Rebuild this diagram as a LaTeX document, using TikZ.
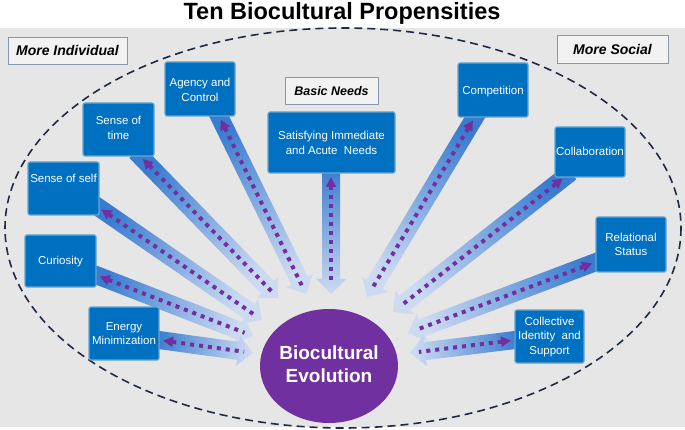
\documentclass[tikz,border=0pt]{standalone}
\usepackage{fontspec}
\setmainfont{Liberation Sans}
\usetikzlibrary{arrows.meta,calc,shapes.geometric}
\definecolor{bgray}{HTML}{E6E6E6}
\definecolor{boxblue}{HTML}{0070C0}
\definecolor{evopurple}{HTML}{7030A0}
\definecolor{dotpurple}{HTML}{7030A0}
\definecolor{navy}{HTML}{1F2A44}
\definecolor{arrdark}{HTML}{3A7CD0}
\definecolor{arrlight}{HTML}{CCDAF2}
\definecolor{lblborder}{HTML}{8497B0}
\definecolor{lblfill}{HTML}{F2F2F2}
\tikzset{
  bbox/.style={fill=boxblue, draw=boxblue!55!bgray, line width=1.2pt, rounded corners=2pt, inner sep=0pt},
  btext/.style={text=white, align=center, font=\fontsize{11.5}{14.5}\selectfont, inner sep=0pt},
  lbl/.style={fill=lblfill, draw=lblborder, line width=0.8pt, inner sep=0pt, font=\bfseries\itshape\fontsize{14}{16}\selectfont},
  dotline/.style={dotpurple, line width=4pt, dash pattern=on 4pt off 5pt, arrows={Triangle[length=10pt,width=10pt]-}},
  arrowbody/.style={top color=arrlight, bottom color=arrdark},
}
\newcommand\bigarrow[2]{%
  \pgfpointdiff{\pgfpointanchor{#1}{center}}{\pgfpointanchor{#2}{center}}%
  \pgfgetlastxy{\arrdx}{\arrdy}%
  \pgfmathsetmacro\arrang{atan2(\arrdy,\arrdx)}%
  \pgfmathsetmacro\arrlen{veclen(\arrdx,\arrdy)}%
  \begin{scope}[shift={(#1)}, rotate=\arrang]
    \shade[arrowbody, shading angle=\arrang-90]
      (-6pt,-9pt) -- (\arrlen pt-15pt,-9pt) -- (\arrlen pt-15pt,-15pt) -- (\arrlen pt,0pt)
      -- (\arrlen pt-15pt,15pt) -- (\arrlen pt-15pt,9pt) -- (-6pt,9pt) -- cycle;
    \draw[dotline] (4pt,0pt) -- (\arrlen pt-9pt,0pt);
  \end{scope}
}
\begin{document}
\begin{tikzpicture}[x=1pt,y=-1pt]
\useasboundingbox (0,0) rectangle (685,430);
\fill[white] (0,0) rectangle (685,430);
\fill[bgray] (0,28) rectangle (685,427);
\node[font=\bfseries\fontsize{23.5}{25}\selectfont] (title) at (342,13) {Ten Biocultural Propensities};
\draw[navy, line width=1.6pt, dash pattern=on 8pt off 5pt] (343,228) ellipse [x radius=338, y radius=200];
\node[ellipse, fill=evopurple, minimum width=138pt, minimum height=114pt, inner sep=0pt] (evo) at (329,366) {};
% connector endpoints
\coordinate (s1) at (219,116); \coordinate (t1) at (306,294);
\coordinate (s2) at (331,173); \coordinate (t2) at (331,294);
\coordinate (s3) at (475,117); \coordinate (t3) at (367,297);
\coordinate (s4) at (566,176); \coordinate (t4) at (393,312);
\coordinate (s5) at (596,262); \coordinate (t5) at (408,333);
\coordinate (s6) at (515,340); \coordinate (t6) at (410,353);
\coordinate (s7) at (140,156); \coordinate (t7) at (278,298);
\coordinate (s8) at (98,207);  \coordinate (t8) at (262,320);
\coordinate (s9) at (96,275);  \coordinate (t9) at (253,336);
\coordinate (s10) at (159,340); \coordinate (t10) at (253,353);
\bigarrow{s1}{t1}\bigarrow{s2}{t2}\bigarrow{s3}{t3}\bigarrow{s4}{t4}\bigarrow{s5}{t5}
\bigarrow{s6}{t6}\bigarrow{s7}{t7}\bigarrow{s8}{t8}\bigarrow{s9}{t9}\bigarrow{s10}{t10}
% boxes
\node[bbox, minimum width=70pt, minimum height=54pt] (agency) at (200,89) {};
\node[btext] (agency-t) at (200,90) {Agency and\\Control};
\node[bbox, minimum width=71pt, minimum height=53pt] (time) at (118.5,129.5) {};
\node[btext] (time-t) at (118.5,128) {Sense of\\time};
\node[bbox, minimum width=71pt, minimum height=53pt] (self) at (63.5,188.5) {};
\node[btext] (self-t) at (63.5,178) {Sense of self};
\node[bbox, minimum width=71pt, minimum height=52pt] (curio) at (60.5,261) {};
\node[btext] (curio-t) at (60.5,262) {Curiosity};
\node[bbox, minimum width=70pt, minimum height=53pt] (energy) at (124,333.5) {};
\node[btext] (energy-t) at (124,333.5) {Energy\\Minimization};
\node[bbox, minimum width=127pt, minimum height=61pt] (satis) at (331.5,142.5) {};
\node[btext] (satis-t) at (331.5,143) {Satisfying Immediate\\and Acute\ \ Needs};
\node[bbox, minimum width=70pt, minimum height=54pt] (compet) at (493,90) {};
\node[btext] (compet-t) at (493,92) {Competition};
\node[bbox, minimum width=70pt, minimum height=50pt] (collab) at (590,152) {};
\node[btext] (collab-t) at (590,151) {Collaboration};
\node[bbox, minimum width=70pt, minimum height=55pt] (relat) at (631,244.5) {};
\node[btext] (relat-t) at (631,244.5) {Relational\\Status};
\node[bbox, minimum width=69pt, minimum height=53pt] (collec) at (549.5,336.5) {};
\node[btext] (collec-t) at (549.5,337) {Collective\\Identity\ \ and\\Support};
% labels
\node[lbl, minimum width=119pt, minimum height=27pt] (indiv) at (67.5,50.5) {More Individual};
\node[lbl, minimum width=111pt, minimum height=28pt] (social) at (612.5,49) {More Social};
\node[lbl, minimum width=93pt, minimum height=27pt, font=\bfseries\itshape\fontsize{12.5}{14}\selectfont] (basic) at (331.5,91) {Basic Needs};
\node[text=white, align=center, font=\bfseries\fontsize{19}{23}\selectfont] (evo-t) at (329,364) {Biocultural\\Evolution};
\end{tikzpicture}
\end{document}
